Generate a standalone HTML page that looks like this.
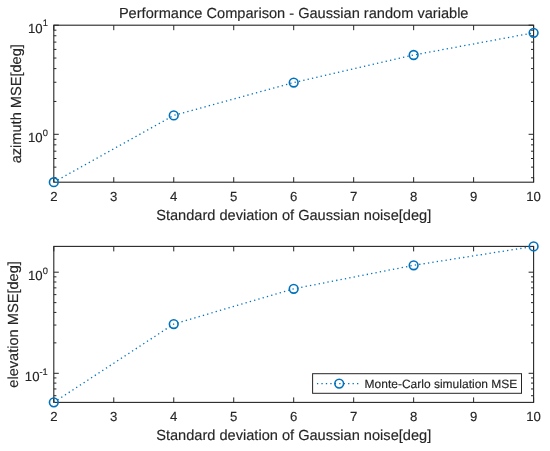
<!DOCTYPE html>
<html><head><meta charset="utf-8"><style>
html,body{margin:0;padding:0;background:#fff;width:550px;height:451px;overflow:hidden}
svg{display:block}
text{text-rendering:geometricPrecision;font-family:"Liberation Sans",Arial,Helvetica,sans-serif;fill:#262626;stroke:#262626;stroke-width:0.15px}
.t{font-size:13.2px}
.s{font-size:9.3px}
.l{font-size:14.6px}
.g{font-size:12px}
</style></head><body>
<svg width="550" height="451" viewBox="0 0 550 451">
<rect width="550" height="451" fill="#fff"/>
<path d="M53.80 182.20V177.20M53.80 25.20V30.20M113.78 182.20V177.20M113.78 25.20V30.20M173.75 182.20V177.20M173.75 25.20V30.20M233.73 182.20V177.20M233.73 25.20V30.20M293.70 182.20V177.20M293.70 25.20V30.20M353.68 182.20V177.20M353.68 25.20V30.20M413.65 182.20V177.20M413.65 25.20V30.20M473.62 182.20V177.20M473.62 25.20V30.20M533.60 182.20V177.20M533.60 25.20V30.20M53.80 177.72H56.40M533.60 177.72H531.00M53.80 167.14H56.40M533.60 167.14H531.00M53.80 158.50H56.40M533.60 158.50H531.00M53.80 151.20H56.40M533.60 151.20H531.00M53.80 144.87H56.40M533.60 144.87H531.00M53.80 139.29H56.40M533.60 139.29H531.00M53.80 134.30H58.80M533.60 134.30H528.60M53.80 101.46H56.40M533.60 101.46H531.00M53.80 82.25H56.40M533.60 82.25H531.00M53.80 68.62H56.40M533.60 68.62H531.00M53.80 58.04H56.40M533.60 58.04H531.00M53.80 49.40H56.40M533.60 49.40H531.00M53.80 42.10H56.40M533.60 42.10H531.00M53.80 35.77H56.40M533.60 35.77H531.00M53.80 30.19H56.40M533.60 30.19H531.00M53.80 25.20H58.80M533.60 25.20H528.60" stroke="#262626" stroke-width="1" fill="none"/>
<rect x="53.80" y="25.20" width="479.80" height="157.00" stroke="#262626" stroke-width="1.1" fill="none"/>
<text x="53.80" y="200.70" class="t" text-anchor="middle">2</text>
<text x="113.78" y="200.70" class="t" text-anchor="middle">3</text>
<text x="173.75" y="200.70" class="t" text-anchor="middle">4</text>
<text x="233.73" y="200.70" class="t" text-anchor="middle">5</text>
<text x="293.70" y="200.70" class="t" text-anchor="middle">6</text>
<text x="353.68" y="200.70" class="t" text-anchor="middle">7</text>
<text x="413.65" y="200.70" class="t" text-anchor="middle">8</text>
<text x="473.62" y="200.70" class="t" text-anchor="middle">9</text>
<text x="533.60" y="200.70" class="t" text-anchor="middle">10</text>
<text x="47.80" y="32.80" class="t" text-anchor="end">10<tspan class="s" dy="-7.10">1</tspan></text>
<text x="47.80" y="142.30" class="t" text-anchor="end">10<tspan class="s" dy="-6.60">0</tspan></text>
<text x="293.70" y="220.00" class="l" text-anchor="middle">Standard deviation of Gaussian noise[deg]</text>
<text transform="translate(20.8 103.70) rotate(-90)" class="l" text-anchor="middle">azimuth MSE[deg]</text>
<path d="M53.80 182.18 L173.75 115.41 L293.70 82.56 L413.65 55.01 L533.60 32.84" stroke="#0072BD" stroke-width="1.3" stroke-dasharray="1.3 3.15" fill="none"/>
<circle cx="53.80" cy="182.18" r="4.35" stroke="#0072BD" stroke-width="1.6" fill="none"/>
<circle cx="173.75" cy="115.41" r="4.35" stroke="#0072BD" stroke-width="1.6" fill="none"/>
<circle cx="293.70" cy="82.56" r="4.35" stroke="#0072BD" stroke-width="1.6" fill="none"/>
<circle cx="413.65" cy="55.01" r="4.35" stroke="#0072BD" stroke-width="1.6" fill="none"/>
<circle cx="533.60" cy="32.84" r="4.35" stroke="#0072BD" stroke-width="1.6" fill="none"/>
<path d="M53.80 402.40V397.40M53.80 246.40V251.40M113.78 402.40V397.40M113.78 246.40V251.40M173.75 402.40V397.40M173.75 246.40V251.40M233.73 402.40V397.40M233.73 246.40V251.40M293.70 402.40V397.40M293.70 246.40V251.40M353.68 402.40V397.40M353.68 246.40V251.40M413.65 402.40V397.40M413.65 246.40V251.40M473.62 402.40V397.40M473.62 246.40V251.40M533.60 402.40V397.40M533.60 246.40V251.40M53.80 395.73H56.40M533.60 395.73H531.00M53.80 388.96H56.40M533.60 388.96H531.00M53.80 383.10H56.40M533.60 383.10H531.00M53.80 377.93H56.40M533.60 377.93H531.00M53.80 373.30H58.80M533.60 373.30H528.60M53.80 342.87H56.40M533.60 342.87H531.00M53.80 325.06H56.40M533.60 325.06H531.00M53.80 312.43H56.40M533.60 312.43H531.00M53.80 302.63H56.40M533.60 302.63H531.00M53.80 294.63H56.40M533.60 294.63H531.00M53.80 287.86H56.40M533.60 287.86H531.00M53.80 282.00H56.40M533.60 282.00H531.00M53.80 276.83H56.40M533.60 276.83H531.00M53.80 272.20H58.80M533.60 272.20H528.60" stroke="#262626" stroke-width="1" fill="none"/>
<rect x="53.80" y="246.40" width="479.80" height="156.00" stroke="#262626" stroke-width="1.1" fill="none"/>
<text x="53.80" y="420.90" class="t" text-anchor="middle">2</text>
<text x="113.78" y="420.90" class="t" text-anchor="middle">3</text>
<text x="173.75" y="420.90" class="t" text-anchor="middle">4</text>
<text x="233.73" y="420.90" class="t" text-anchor="middle">5</text>
<text x="293.70" y="420.90" class="t" text-anchor="middle">6</text>
<text x="353.68" y="420.90" class="t" text-anchor="middle">7</text>
<text x="413.65" y="420.90" class="t" text-anchor="middle">8</text>
<text x="473.62" y="420.90" class="t" text-anchor="middle">9</text>
<text x="533.60" y="420.90" class="t" text-anchor="middle">10</text>
<text x="47.80" y="279.70" class="t" text-anchor="end">10<tspan class="s" dy="-6.20">0</tspan></text>
<text x="47.80" y="381.40" class="t" text-anchor="end">10<tspan class="s" dy="-6.60">-1</tspan></text>
<text x="293.70" y="440.20" class="l" text-anchor="middle">Standard deviation of Gaussian noise[deg]</text>
<text transform="translate(17.5 324.40) rotate(-90)" class="l" text-anchor="middle">elevation MSE[deg]</text>
<path d="M53.80 402.35 L173.75 324.05 L293.70 288.81 L413.65 265.31 L533.60 246.39" stroke="#0072BD" stroke-width="1.3" stroke-dasharray="1.3 3.15" fill="none"/>
<circle cx="53.80" cy="402.35" r="4.35" stroke="#0072BD" stroke-width="1.6" fill="none"/>
<circle cx="173.75" cy="324.05" r="4.35" stroke="#0072BD" stroke-width="1.6" fill="none"/>
<circle cx="293.70" cy="288.81" r="4.35" stroke="#0072BD" stroke-width="1.6" fill="none"/>
<circle cx="413.65" cy="265.31" r="4.35" stroke="#0072BD" stroke-width="1.6" fill="none"/>
<circle cx="533.60" cy="246.39" r="4.35" stroke="#0072BD" stroke-width="1.6" fill="none"/>
<text x="293.70" y="18.4" class="l" text-anchor="middle">Performance Comparison - Gaussian random variable</text>
<rect x="312.6" y="373.7" width="208.9" height="19.6" stroke="#262626" stroke-width="1" fill="#fff"/>
<path d="M316.95 383.6H358.8" stroke="#0072BD" stroke-width="1.3" stroke-dasharray="1.3 3.15" fill="none"/>
<circle cx="339.2" cy="383.6" r="4.35" stroke="#0072BD" stroke-width="1.6" fill="none"/>
<text x="364.6" y="387.9" class="g">Monte-Carlo simulation MSE</text>
</svg>
</body></html>
